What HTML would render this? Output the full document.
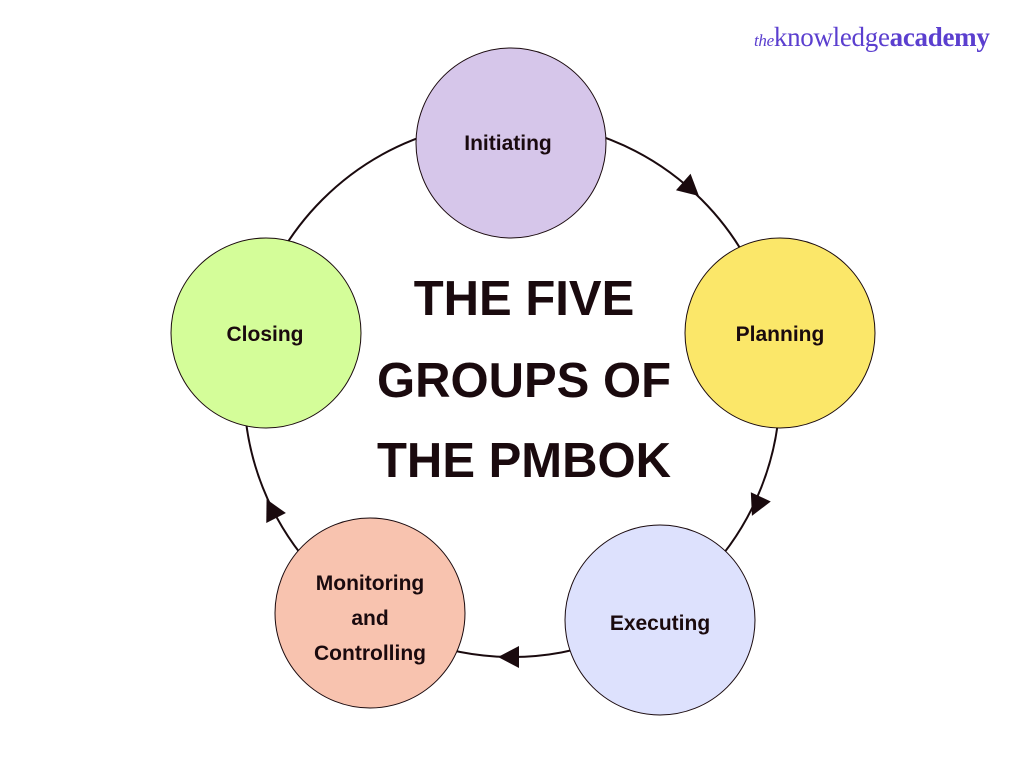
<!DOCTYPE html>
<html><head><meta charset="utf-8"><style>
body{margin:0;width:1024px;height:768px;background:#fff;overflow:hidden;position:relative;font-family:"Liberation Sans",sans-serif}
.logo{position:absolute;left:754px;top:22px;font-family:"Liberation Serif",serif;font-size:27px;color:#5b3fcf;letter-spacing:-0.3px}
.logo i{font-size:17px}
.logo b{font-weight:bold}
</style></head><body>
<div class="logo"><i>the</i>knowledge<b>academy</b></div>
<svg width="1024" height="768" style="position:absolute;left:0;top:0">
<circle cx="512" cy="389" r="268" fill="none" stroke="#1a0a0e" stroke-width="2"/>
<g fill="#1a0a0e">
<polygon points="12,0 -9,-11 -9,11" transform="translate(690,188) rotate(41.5)"/>
<polygon points="12,0 -9,-11 -9,11" transform="translate(757,505) rotate(115)"/>
<polygon points="12,0 -9,-11 -9,11" transform="translate(510,657) rotate(180)"/>
<polygon points="12,0 -9,-11 -9,11" transform="translate(272,510) rotate(-117)"/>
</g>
<g stroke="#1a0a0e" stroke-width="1">
<circle cx="511" cy="143" r="95" fill="#d6c6ea"/>
<circle cx="780" cy="333" r="95" fill="#fbe769"/>
<circle cx="660" cy="620" r="95" fill="#dde1fd"/>
<circle cx="370" cy="613" r="95" fill="#f8c3af"/>
<circle cx="266" cy="333" r="95" fill="#d4fd99"/>
</g>
<g font-family="Liberation Sans, sans-serif" font-weight="bold" font-size="21" fill="#1a0a0e" text-anchor="middle">
<text x="508" y="150">Initiating</text>
<text x="780" y="341">Planning</text>
<text x="660" y="630">Executing</text>
<text x="370" y="590">Monitoring</text>
<text x="370" y="625">and</text>
<text x="370" y="660">Controlling</text>
<text x="265" y="341">Closing</text>
</g>
<g font-family="Liberation Sans, sans-serif" font-weight="bold" font-size="49" fill="#1a0a0e" text-anchor="middle">
<text x="524" y="315">THE FIVE</text>
<text x="524" y="397">GROUPS OF</text>
<text x="524" y="477">THE PMBOK</text>
</g>
</svg>
</body></html>
